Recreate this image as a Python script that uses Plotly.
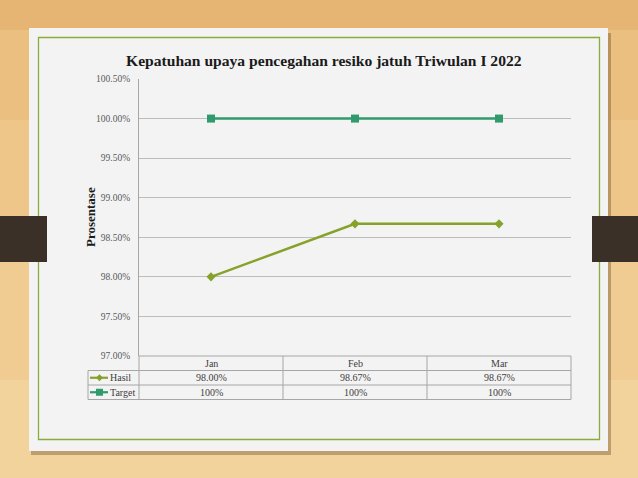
import plotly.graph_objects as go

# data
bulan = ["Jan", "Feb", "Mar"]
hasil = [0.98, 0.9867, 0.9867]
target = [1.0, 1.0, 1.0]
judul = "Kepatuhan upaya pencegahan resiko jatuh Triwulan I 2022"

W, H = 638, 478
SERIF = "Liberation Serif, Times New Roman, serif"
C_HASIL = "#86a22b"
C_TARGET = "#2f9a6c"
GRID = "#bdbdbd"


def px(x):
    return x / W


def py(y):
    return 1 - y / H


def rect(x0, y0, x1, y1, fill, line=None, lw=0, layer="below"):
    return dict(type="rect", xref="paper", yref="paper",
                x0=px(x0), x1=px(x1), y0=py(y1), y1=py(y0),
                fillcolor=fill, line=dict(color=line or fill, width=lw),
                layer=layer)


fig = go.Figure()

fig.add_trace(go.Scatter(
    x=bulan, y=hasil, name="Hasil", mode="lines+markers",
    line=dict(color=C_HASIL, width=2.5),
    marker=dict(symbol="diamond", size=7, color=C_HASIL),
))
fig.add_trace(go.Scatter(
    x=bulan, y=target, name="Target", mode="lines+markers",
    line=dict(color=C_TARGET, width=2.5),
    marker=dict(symbol="square", size=8, color=C_TARGET),
))

shapes = []
# wood background bands
bands = [(0, 30, "#e6b574"), (30, 120, "#ebbf80"), (120, 250, "#eec689"),
         (250, 380, "#f0cc92"), (380, 478, "#f3d39c")]
for y0, y1, c in bands:
    shapes.append(rect(0, y0, W, y1, c))
# card shadow + card
shapes.append(rect(31, 33, 611, 455, "rgba(90,60,30,0.35)"))
shapes.append(rect(29, 28, 608, 451, "#f3f3f3"))
# green frame
shapes.append(dict(type="rect", xref="paper", yref="paper",
                   x0=px(38.5), x1=px(599.5), y0=py(439.5), y1=py(37.5),
                   line=dict(color="#8bab3e", width=1.3), layer="below"))
# brown tabs on the sides
shapes.append(rect(0, 216, 47, 262, "#3b3027", layer="above"))
shapes.append(rect(592, 216, W, 262, "#3b3027", layer="above"))

# data table under the chart
t_top, t_r1, t_r2, t_bot = 356, 370.5, 385, 399.5
t_left, p_left, p_right = 88, 139, 571
tl = dict(color="#a6a6a6", width=1)
for yy, x0 in [(t_r1, t_left), (t_r2, t_left), (t_bot, t_left), (t_top, p_left)]:
    shapes.append(dict(type="line", xref="paper", yref="paper",
                       x0=px(x0), x1=px(p_right), y0=py(yy), y1=py(yy),
                       line=tl, layer="above"))
shapes.append(dict(type="line", xref="paper", yref="paper",
                   x0=px(t_left), x1=px(t_left), y0=py(t_r1), y1=py(t_bot),
                   line=tl, layer="above"))
for xx in [p_left, p_right]:
    shapes.append(dict(type="line", xref="paper", yref="paper",
                       x0=px(xx), x1=px(xx), y0=py(t_top), y1=py(t_bot),
                       line=tl, layer="above"))
for i in range(1, len(bulan)):
    shapes.append(dict(type="line", xref="x", yref="paper",
                       x0=i - 0.5, x1=i - 0.5, y0=py(t_top), y1=py(t_bot),
                       line=tl, layer="above"))

# legend keys inside the table
rows = [("Hasil", C_HASIL, "diamond", (t_r1 + t_r2) / 2),
        ("Target", C_TARGET, "square", (t_r2 + t_bot) / 2)]
for name, col, sym, yc in rows:
    shapes.append(dict(type="line", xref="paper", yref="paper",
                       x0=px(90), x1=px(108), y0=py(yc), y1=py(yc),
                       line=dict(color=col, width=2.2), layer="above"))
    if sym == "square":
        shapes.append(rect(96, yc - 3.5, 103, yc + 3.5, col, layer="above"))
    else:
        shapes.append(dict(type="path", xref="paper", yref="paper",
                           path="M {} {} L {} {} L {} {} L {} {} Z".format(
                               px(99.5), py(yc - 3.5), px(103), py(yc),
                               px(99.5), py(yc + 3.5), px(96), py(yc)),
                           fillcolor=col, line=dict(color=col, width=0),
                           layer="above"))

ann = []
tfont = dict(family=SERIF, size=10, color="#404040")
ann.append(dict(text="<b>" + judul + "</b>", x=px(324), y=py(60), xref="paper",
                yref="paper", showarrow=False,
                font=dict(family=SERIF, size=15.6, color="#1a1a1a"),
                xanchor="center", yanchor="middle"))
ann.append(dict(text="<b>Prosentase</b>", x=px(90), y=py(217), xref="paper",
                yref="paper", showarrow=False, textangle=-90,
                font=dict(family=SERIF, size=13, color="#1a1a1a"),
                xanchor="center", yanchor="middle"))
for i, b in enumerate(bulan):
    ann.append(dict(text=b, x=b, xref="x", y=py((t_top + t_r1) / 2), yref="paper",
                    showarrow=False, font=tfont, yanchor="middle"))
    ann.append(dict(text="{:.2%}".format(hasil[i]), x=b, xref="x",
                    y=py((t_r1 + t_r2) / 2), yref="paper",
                    showarrow=False, font=tfont, yanchor="middle"))
    ann.append(dict(text="{:.0%}".format(target[i]), x=b, xref="x",
                    y=py((t_r2 + t_bot) / 2), yref="paper",
                    showarrow=False, font=tfont, yanchor="middle"))
for name, col, sym, yc in rows:
    ann.append(dict(text=name, x=px(108), y=py(yc), xref="paper", yref="paper",
                    showarrow=False, font=tfont, xanchor="left", yanchor="middle"))

fig.update_layout(
    width=W, height=H, autosize=False,
    margin=dict(l=0, r=0, t=0, b=0),
    paper_bgcolor="#f3d39c", plot_bgcolor="rgba(0,0,0,0)",
    showlegend=False,
    shapes=shapes, annotations=ann,
    xaxis=dict(domain=[px(p_left), px(p_right)], range=[-0.5, 2.5],
               showticklabels=False, showgrid=False, zeroline=False,
               fixedrange=True, automargin=False),
    yaxis=dict(domain=[py(356), py(79)], range=[0.97, 1.005], dtick=0.005,
               tick0=0.97, tickformat=".2%", showgrid=True, gridcolor=GRID,
               gridwidth=1, zeroline=False, showline=True, linecolor="#a6a6a6",
               ticks="", tickfont=dict(family=SERIF, size=9.5, color="#595959"),
               ticklabelstandoff=6, automargin=False),
)

# page has a default body margin; drop it so the chart sits at 0,0
fig.write_html(
    "out.html",
    config={"displayModeBar": False},
    post_script="document.body.style.margin='0';"
                "document.body.style.overflow='hidden';",
)
